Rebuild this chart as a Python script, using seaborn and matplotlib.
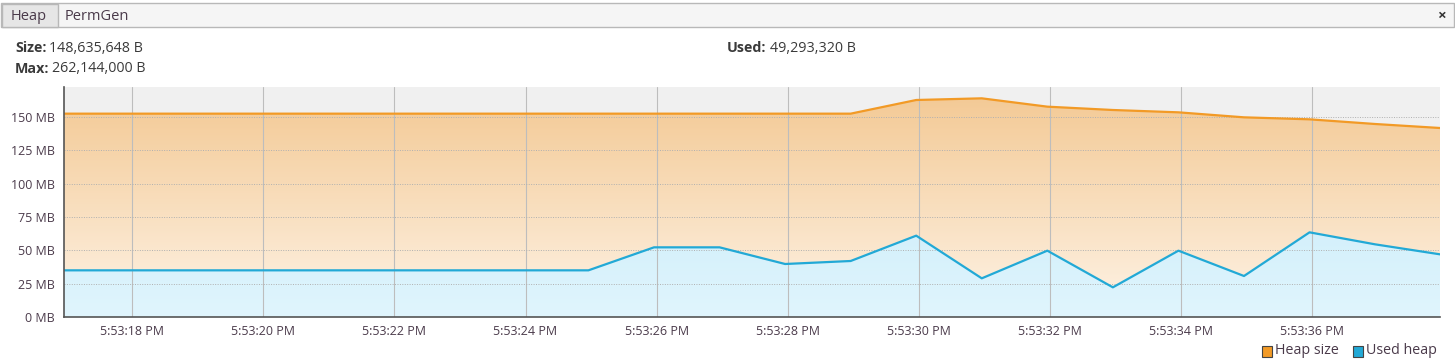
import numpy as np
import pandas as pd
import matplotlib
matplotlib.use("Agg")
import matplotlib.pyplot as plt
import seaborn as sns
from matplotlib.patches import Rectangle, Polygon
from matplotlib.colors import LinearSegmentedColormap

# ---- data ----
sample_times = [16.96, 17.96, 18.96, 19.96, 20.96, 21.96, 22.96, 23.96, 24.96, 25.96, 26.96,
                27.96, 28.96, 29.96, 30.96, 31.96, 32.96, 33.96, 34.96, 35.96, 36.96, 37.95]
heap_size_mb = [152.5, 152.5, 152.5, 152.5, 152.5, 152.5, 152.5, 152.5, 152.5, 152.5, 152.5,
                152.5, 152.5, 162.75, 164.0, 157.75, 155.25, 153.5, 149.75, 148.25, 144.75, 141.75]
used_heap_mb = [35, 35, 35, 35, 35, 35, 35, 35, 35, 52.25, 52.25,
                39.75, 42.0, 61.0, 29.0, 49.75, 22.25, 49.75, 30.75, 63.5, 54.5, 47.0]
tick_seconds = [18, 20, 22, 24, 26, 28, 30, 32, 34, 36]
tick_labels = ["5:53:18 PM", "5:53:20 PM", "5:53:22 PM", "5:53:24 PM", "5:53:26 PM",
               "5:53:28 PM", "5:53:30 PM", "5:53:32 PM", "5:53:34 PM", "5:53:36 PM"]
ytick_values = [0, 25, 50, 75, 100, 125, 150]
ytick_labels = ["0 MB", "25 MB", "50 MB", "75 MB", "100 MB", "125 MB", "150 MB"]
series_names = ["Heap size", "Used heap"]
info_size = "148,635,648 B"
info_max = "262,144,000 B"
info_used = "49,293,320 B"
tabs = ["Heap", "PermGen"]

df = pd.DataFrame({"t": sample_times, "Heap size": heap_size_mb, "Used heap": used_heap_mb})

ORANGE = "#f29a26"
BLUE = "#22a9d6"
TEXTC = "#4b3b4b"

sns.set_style("white")
plt.rcParams["font.family"] = ["Open Sans", "DejaVu Sans"]

W, H = 1455, 363
fig = plt.figure(figsize=(W / 100, H / 100), dpi=100)
fig.patch.set_facecolor("white")

def fx(px):
    return px / W

def fy(py):
    return 1 - py / H

ax = fig.add_axes([fx(64), fy(317), fx(1440) - fx(64), fy(87) - fy(317)])
ax.set_facecolor("#f0f0f0")
xmin, xmax = sample_times[0], sample_times[-1]
ymax = 172.5
ax.set_xlim(xmin, xmax)
ax.set_ylim(0, ymax)

# gradient fills
def grad_fill(yvals, c_top, c_bottom, z):
    cmap = LinearSegmentedColormap.from_list("g", [c_bottom, c_top])
    grad = np.linspace(0, 1, 256).reshape(-1, 1)
    im = ax.imshow(grad, cmap=cmap, aspect="auto", origin="lower",
                   extent=[xmin, xmax, 0, ymax], zorder=z, interpolation="bicubic")
    verts = [(xmin, 0)] + list(zip(sample_times, yvals)) + [(xmax, 0)]
    poly = Polygon(verts, closed=True, facecolor="none", edgecolor="none")
    ax.add_patch(poly)
    im.set_clip_path(poly)

grad_fill(heap_size_mb, "#f3c892", "#fef3e6", 1)
grad_fill(used_heap_mb, "#bfe8f8", "#e0f5fd", 2)

sns.lineplot(data=df, x="t", y="Heap size", ax=ax, color=ORANGE, lw=1.6, zorder=4)
sns.lineplot(data=df, x="t", y="Used heap", ax=ax, color=BLUE, lw=1.6, zorder=4)

# grid
for t in tick_seconds:
    ax.axvline(t, color="#bdbdbd", lw=0.8, zorder=3)
for v in ytick_values[1:]:
    ax.axhline(v, color="#b0b0b0", lw=0.7, ls=(0, (1, 1.5)), zorder=3)

ax.set_xticks(tick_seconds)
ax.set_xticklabels(tick_labels)
ax.set_yticks(ytick_values)
ax.set_yticklabels(ytick_labels)
ax.set_xlabel("")
ax.set_ylabel("")
ax.tick_params(axis="both", which="both", length=5, width=1, color="#555555",
               labelsize=9, labelcolor=TEXTC, pad=1.5, direction="out")
ax.tick_params(axis="x", pad=1)
for s in ["top", "right"]:
    ax.spines[s].set_visible(False)
for s in ["left", "bottom"]:
    ax.spines[s].set_color("#555555")
    ax.spines[s].set_linewidth(1.2)
    ax.spines[s].set_zorder(5)

# tab bar
fig.patches.append(Rectangle((fx(1), fy(27)), fx(1453), fy(3) - fy(27), transform=fig.transFigure,
                             facecolor="#f5f5f5", edgecolor="#b8b8b8", lw=1))
fig.patches.append(Rectangle((fx(1.5), fy(27)), fx(56), fy(3.5) - fy(27), transform=fig.transFigure,
                             facecolor="#e6e6e6", edgecolor="#b8b8b8", lw=1))
fig.text(fx(11), fy(16), tabs[0], fontsize=10.5, color="#4a3a4a", va="center", ha="left")
fig.text(fx(65), fy(16), tabs[1], fontsize=10.5, color="#4a3a4a", va="center", ha="left")
fig.text(fx(1441), fy(15.5), "×", fontsize=11, fontweight="bold", color="#333333",
         va="center", ha="center")

# info text
def info(x, y, label, value):
    t = fig.text(fx(x), fy(y), label, fontsize=10.3, fontweight="bold", color="#3a3a3a",
                 va="center", ha="left")
    fig.canvas.draw()
    bb = t.get_window_extent()
    fig.text((bb.x1 + 3) / W, fy(y), value, fontsize=10.3, color="#3a3a3a", va="center", ha="left")

info(15, 48, "Size:", info_size)
info(15, 69, "Max:", info_max)
info(727, 48, "Used:", info_used)

# legend
def legend_item(x, color, label):
    fig.patches.append(Rectangle((fx(x), fy(357)), fx(10), fy(346) - fy(357),
                                 transform=fig.transFigure, facecolor=color,
                                 edgecolor="#444444", lw=0.8))
    fig.text(fx(x + 13), fy(351), label, fontsize=10.3, color="#4a3a4a", va="center", ha="left")

legend_item(1262, ORANGE, series_names[0])
legend_item(1353, BLUE, series_names[1])

fig.savefig("out.png", dpi=100)
